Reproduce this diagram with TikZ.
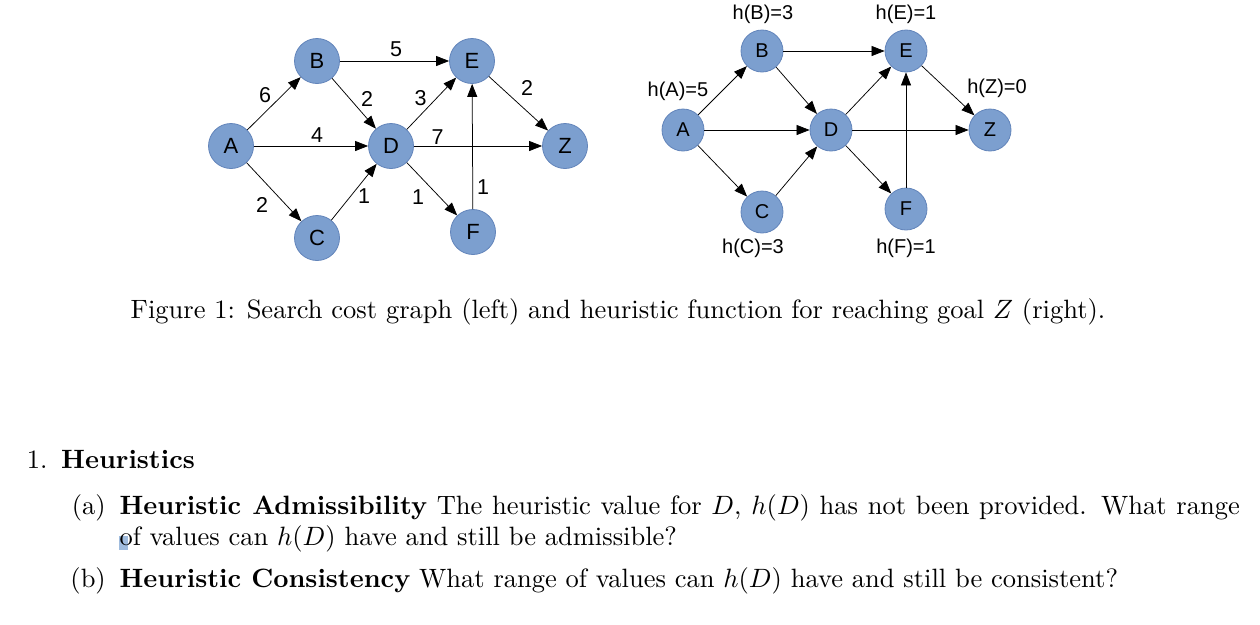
\RequirePackage{fix-cm}
\documentclass[tikz,border=0pt]{standalone}
\usepackage{fontspec}
\usepackage{graphicx}
\newfontfamily\sansf{Liberation Sans}
\usetikzlibrary{arrows.meta}
\definecolor{nodefill}{RGB}{124,159,207}
\definecolor{nodeline}{RGB}{98,132,186}
\definecolor{selhl}{RGB}{160,188,222}
\newcommand\sbx[1]{\scalebox{2.65}{\fontsize{10}{12}\selectfont #1}}
\begin{document}
\begin{tikzpicture}[x=1pt,y=-1pt,
  vtx/.style={circle, fill=nodefill, draw=nodeline, line width=0.8pt, minimum size=45pt, inner sep=0pt, font=\sansf\fontsize{22}{22}\selectfont},
  vtxr/.style={vtx, minimum size=42pt, font=\sansf\fontsize{20}{20}\selectfont},
  arr/.style={-{Triangle[length=13pt,width=10pt]}, line width=0.75pt, black},
  lbl/.style={font=\sansf\fontsize{21.5}{21.5}\selectfont, inner sep=0pt},
  hlab/.style={font=\sansf\fontsize{20}{20}\selectfont, inner sep=0pt},
  txt/.style={inner sep=0pt}
]
\useasboundingbox (0,0) rectangle (1260,624);
% ---------- left graph ----------
\node[vtx] (A) at (231,146) {A};
\node[vtx] (B) at (317,61) {B};
\node[vtx] (C) at (317,238) {C};
\node[vtx] (D) at (391,146) {D};
\node[vtx] (E) at (472,61) {E};
\node[vtx] (F) at (473,232) {F};
\node[vtx] (Z) at (565,146) {Z};
\draw[arr] (A) -- (B);
\draw[arr] (A) -- (D);
\draw[arr] (A) -- (C);
\draw[arr] (B) -- (E);
\draw[arr] (B) -- (D);
\draw[arr] (C) -- (D);
\draw[arr] (D) -- (E);
\draw[arr] (D) -- (Z);
\draw[arr] (D) -- (F);
\draw[arr] (E) -- (Z);
\draw[arr] (F) -- (E);
\node[lbl] (l1) at (265,95) {6};
\node[lbl] (l2) at (396,49) {5};
\node[lbl] (l3) at (367,99) {2};
\node[lbl] (l4) at (420.5,98) {3};
\node[lbl] (l5) at (527,88) {2};
\node[lbl] (l6) at (317,135) {4};
\node[lbl] (l7) at (437.5,137) {7};
\node[lbl] (l8) at (262,205) {2};
\node[lbl] (l9) at (364,196) {1};
\node[lbl] (l10) at (418,197) {1};
\node[lbl] (l11) at (483,187) {1};
% ---------- right graph ----------
\node[vtxr] (rA) at (683,130) {A};
\node[vtxr] (rB) at (762,51) {B};
\node[vtxr] (rC) at (762,212) {C};
\node[vtxr] (rD) at (831,130) {D};
\node[vtxr] (rE) at (906,51) {E};
\node[vtxr] (rF) at (906,209) {F};
\node[vtxr] (rZ) at (990,130) {Z};
\draw[arr] (rA) -- (rB);
\draw[arr] (rA) -- (rD);
\draw[arr] (rA) -- (rC);
\draw[arr] (rB) -- (rE);
\draw[arr] (rB) -- (rD);
\draw[arr] (rC) -- (rD);
\draw[arr] (rD) -- (rE);
\draw[arr] (rD) -- (rZ);
\draw[arr] (rD) -- (rF);
\draw[arr] (rE) -- (rZ);
\draw[arr] (rF) -- (rE);
\node[hlab] (hB) at (763,14) {h(B)=3};
\node[hlab] (hE) at (906,14) {h(E)=1};
\node[hlab] (hA) at (678,91) {h(A)=5};
\node[hlab] (hZ) at (997,88) {h(Z)=0};
\node[hlab] (hC) at (753,248) {h(C)=3};
\node[hlab] (hF) at (906,248) {h(F)=1};
% ---------- text ----------
\node[txt, anchor=base] (cap) at (618,318) {\sbx{Figure 1: Search cost graph (left) and heuristic function for reaching goal $Z$ (right).}};
\node[txt, anchor=base east] (n1) at (47.7,468) {\sbx{1.}};
\node[txt, anchor=base west] (h1) at (61,468) {\sbx{\textbf{Heuristics}}};
\fill[selhl] (119,536) rectangle (128,550);
\node[txt, anchor=base east] (ia) at (106,514) {\sbx{(a)}};
\node[txt, anchor=base west] (ta1) at (119.3,514) {\sbx{\makebox[422.75pt][s]{\textbf{Heuristic Admissibility} The heuristic value for $D$, $h(D)$ has not been provided. What range}}};
\node[txt, anchor=base west] (ta2) at (119.3,545) {\sbx{of values can $h(D)$ have and still be admissible?}};
\node[txt, anchor=base east] (ib) at (106,587) {\sbx{(b)}};
\node[txt, anchor=base west] (tb) at (119.3,587) {\sbx{\textbf{Heuristic Consistency} What range of values can $h(D)$ have and still be consistent?}};
\end{tikzpicture}
\end{document}
